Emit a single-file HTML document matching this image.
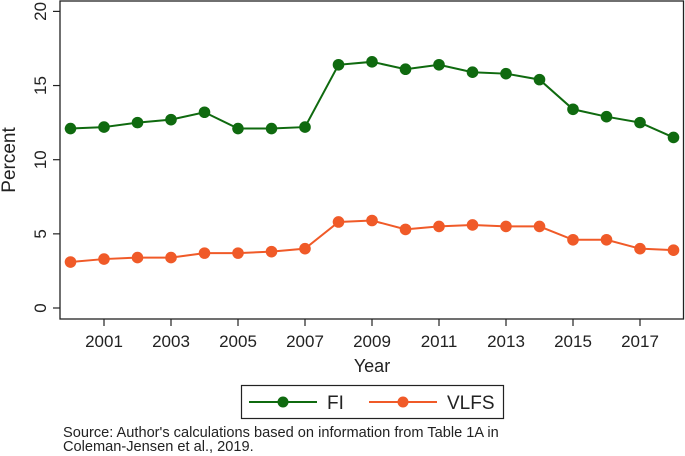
<!DOCTYPE html>
<html><head><meta charset="utf-8"><style>
body{margin:0;background:#fff}
svg{display:block;font-family:"Liberation Sans",Arial,sans-serif}
</style></head><body>
<svg id="chart" width="685" height="456" viewBox="0 0 685 456">
<rect x="60" y="1" width="623.5" height="318" fill="#fff" stroke="#222" stroke-width="1.3"/>
<g id="axes"></g>
<g id="series"></g>
<text x="0" y="0" transform="translate(15,160) rotate(-90)" text-anchor="middle" font-size="19" fill="#222">Percent</text>
<text x="372" y="372" text-anchor="middle" font-size="18" fill="#222">Year</text>
<g>
<rect x="241.5" y="385.5" width="262" height="33" fill="#fff" stroke="#222" stroke-width="1.2"/>
<g>
<line x1="249" y1="402" x2="317" y2="402" stroke="#0f6a0f" stroke-width="2"/>
<circle cx="283" cy="402" r="5.5" fill="#0f6a0f"/>
<text x="327" y="409" font-size="19" fill="#222">FI</text>
</g>
<g>
<line x1="369" y1="402" x2="437" y2="402" stroke="#f05a28" stroke-width="2"/>
<circle cx="403" cy="402" r="5.5" fill="#f05a28"/>
<text x="447" y="409" font-size="19" fill="#222">VLFS</text>
</g>
</g>
<text x="63" y="437" font-size="14.6" fill="#222">Source: Author's calculations based on information from Table 1A in</text>
<text x="63" y="451" font-size="14.6" fill="#222">Coleman-Jensen et al., 2019.</text>
</svg>
<script>
const years=[2000,2001,2002,2003,2004,2005,2006,2007,2008,2009,2010,2011,2012,2013,2014,2015,2016,2017,2018];
const fiValues=[12.1,12.2,12.5,12.7,13.2,12.1,12.1,12.2,16.4,16.6,16.1,16.4,15.9,15.8,15.4,13.4,12.9,12.5,11.5];
const vlfsValues=[3.1,3.3,3.4,3.4,3.7,3.7,3.8,4.0,5.8,5.9,5.3,5.5,5.6,5.5,5.5,4.6,4.6,4.0,3.9];
const yTicks=[0,5,10,15,20];
const xTicks=[2001,2003,2005,2007,2009,2011,2013,2015,2017];
const NS='http://www.w3.org/2000/svg';
function xs(v){return 70.5+(v-2000)*33.5;}
function ys(v){return 308-v*14.83;}
function mk(tag,attrs,parent){const e=document.createElementNS(NS,tag);for(const k in attrs)e.setAttribute(k,attrs[k]);parent.appendChild(e);return e;}
const axes=document.getElementById('axes');
yTicks.forEach(t=>{
  const l=mk('line',{x1:53,x2:60,y1:ys(t),y2:ys(t),stroke:'#222','stroke-width':1.2},axes);
  
  
  const tx=mk('text',{x:0,y:0,transform:`translate(46,${ys(t)}) rotate(-90)`,'text-anchor':'middle','font-size':17,fill:'#222'},axes);
  tx.textContent=t;
  
  
});
xTicks.forEach(t=>{
  const l=mk('line',{x1:xs(t),x2:xs(t),y1:319,y2:326,stroke:'#222','stroke-width':1.2},axes);
  
  
  const tx=mk('text',{x:xs(t),y:347,'text-anchor':'middle','font-size':17,fill:'#222'},axes);
  tx.textContent=t;
  
  
});
const sg=document.getElementById('series');
function draw(vals,color,name){
  const g=mk('g',{},sg);
  
  
  const p=mk('polyline',{points:vals.map((v,i)=>xs(years[i])+','+ys(v)).join(' '),fill:'none',stroke:color,'stroke-width':2},g);
  
  
  vals.forEach((v,i)=>{
    const c=mk('circle',{cx:xs(years[i]),cy:ys(v),r:5.8,fill:color},g);
    
    
  });
}
draw(fiValues,'#0f6a0f','fi');
draw(vlfsValues,'#f05a28','vlfs');
</script>
</body></html>
